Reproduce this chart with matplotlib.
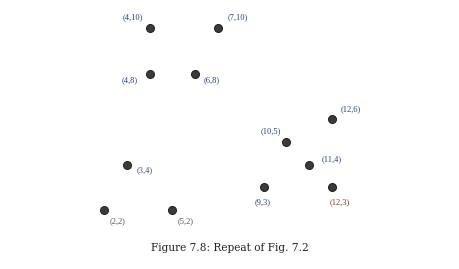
import matplotlib
matplotlib.use('Agg')
import matplotlib.pyplot as plt

# point coordinates and their labels
xs = [4, 7, 4, 6, 12, 10, 11, 9, 12, 3, 2, 5]
ys = [10, 10, 8, 8, 6, 5, 4, 3, 3, 4, 2, 2]
labels = ['(%d,%d)' % (x, y) for x, y in zip(xs, ys)]

# label offsets in pixels (dx, dy)
offs = [(-17, 11), (20, 11), (-20, -6), (16, -6), (19, 10), (-16, 11),
        (22, 5), (-1, -15), (8, -15), (18, -6), (14, -11), (13, -11)]
lcols = ['#23407a'] * 8 + ['#7a3a22', '#3a4a7a', '#5a4a5a', '#5a4a5a']

fig = plt.figure(figsize=(4.6, 2.69), dpi=100)
ax = fig.add_axes([0, 0, 1, 1])
ax.set_xlim(-2.56, 17.61)
ax.set_ylim(-0.60, 11.25)
ax.axis('off')

ax.plot(xs, ys, 'o', ms=5.8, color='#3a3a3a', mec='#111111', mew=0.6, ls='none')
for x, y, t, (dx, dy), c in zip(xs, ys, labels, offs, lcols):
    ax.annotate(t, (x, y), xytext=(dx, dy), textcoords='offset pixels',
                ha='center', va='center', fontsize=6,
                family='Liberation Serif', color=c)

fig.text(0.5, 1 - 248 / 269., 'Figure 7.8: Repeat of Fig. 7.2', ha='center', va='center',
         fontsize=7.6, family='DejaVu Serif', color='#222222')

fig.savefig('out.png', dpi=100)
